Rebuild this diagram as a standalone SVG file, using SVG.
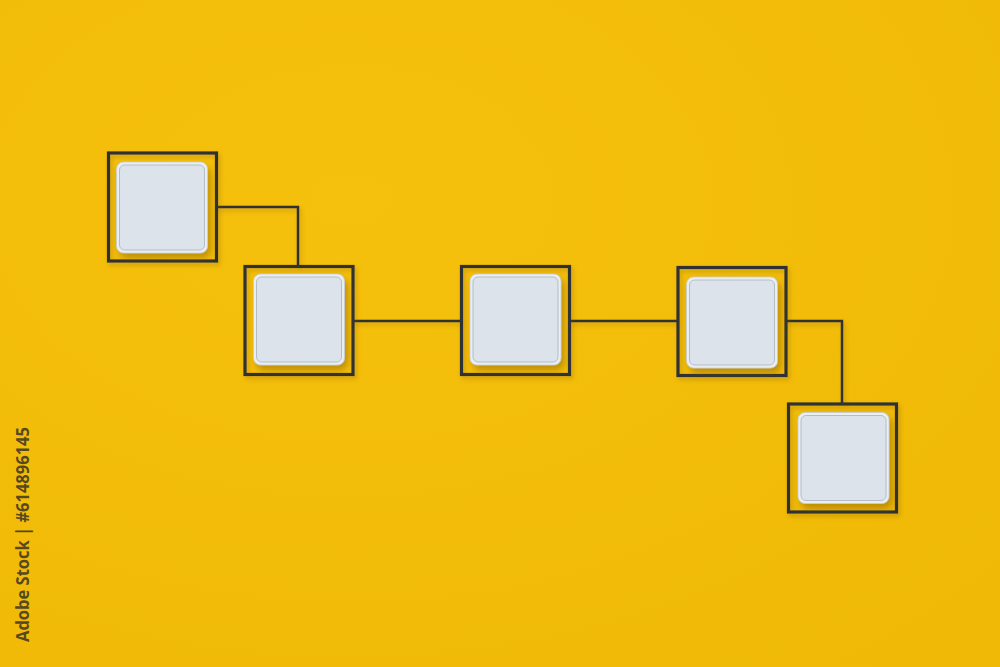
<svg xmlns="http://www.w3.org/2000/svg" width="1000" height="667" viewBox="0 0 1000 667">
<defs>
<radialGradient id="bg" cx="0.35" cy="0.3" r="0.9">
<stop offset="0" stop-color="#F6C10C"/>
<stop offset="1" stop-color="#EFB905"/>
</radialGradient>
<filter id="sh" x="-20%" y="-20%" width="150%" height="150%">
<feDropShadow dx="3" dy="5" stdDeviation="3.5" flood-color="#7a5400" flood-opacity="0.45"/>
</filter>
<filter id="lsh" x="-20%" y="-20%" width="150%" height="150%">
<feDropShadow dx="2" dy="3" stdDeviation="2" flood-color="#7a5400" flood-opacity="0.3"/>
</filter>
<g id="tile">
<rect x="0" y="0" width="91" height="91" rx="7" fill="#E9EEF2" stroke="#C5CDD4" stroke-width="0.8"/>
<rect x="3" y="3" width="85" height="85" rx="5" fill="#DCE3EA" stroke="#AFB8C1" stroke-width="0.9"/>
</g>
</defs>
<style>
.frame{fill:none;stroke:#2E3136;stroke-width:3.2}
.conn{fill:none;stroke:#2E3136;stroke-width:2.5}
.wm{font-family:"Open Sans","DejaVu Sans",sans-serif;font-size:18px;font-weight:700;fill:#3B3424;fill-opacity:0.85}
</style>
<rect width="1000" height="667" fill="url(#bg)"/>
<g id="connectors" filter="url(#lsh)">
<polyline class="conn" points="216,207 298,207 298,266"/>
<line class="conn" x1="353" y1="321" x2="461" y2="321"/>
<line class="conn" x1="570" y1="321" x2="677" y2="321"/>
<polyline class="conn" points="786,321 842,321 842,403"/>
</g>
<g id="node1">
<rect class="frame" x="108.5" y="153" width="108" height="108" filter="url(#lsh)"/>
<use href="#tile" x="116.5" y="162" filter="url(#sh)"/>
</g>
<g id="node2">
<rect class="frame" x="245" y="266.5" width="108" height="108" filter="url(#lsh)"/>
<use href="#tile" x="253.5" y="274" filter="url(#sh)"/>
</g>
<g id="node3">
<rect class="frame" x="461.5" y="266.5" width="108" height="108" filter="url(#lsh)"/>
<use href="#tile" x="470" y="274" filter="url(#sh)"/>
</g>
<g id="node4">
<rect class="frame" x="678" y="267.5" width="108" height="108" filter="url(#lsh)"/>
<use href="#tile" x="686.5" y="277" filter="url(#sh)"/>
</g>
<g id="node5">
<rect class="frame" x="788.5" y="404" width="108" height="108" filter="url(#lsh)"/>
<use href="#tile" x="798" y="412.5" filter="url(#sh)"/>
</g>
<text class="wm" transform="translate(29,642) rotate(-90)" x="0" y="0" textLength="215" lengthAdjust="spacingAndGlyphs">Adobe Stock | #614896145</text>
</svg>
